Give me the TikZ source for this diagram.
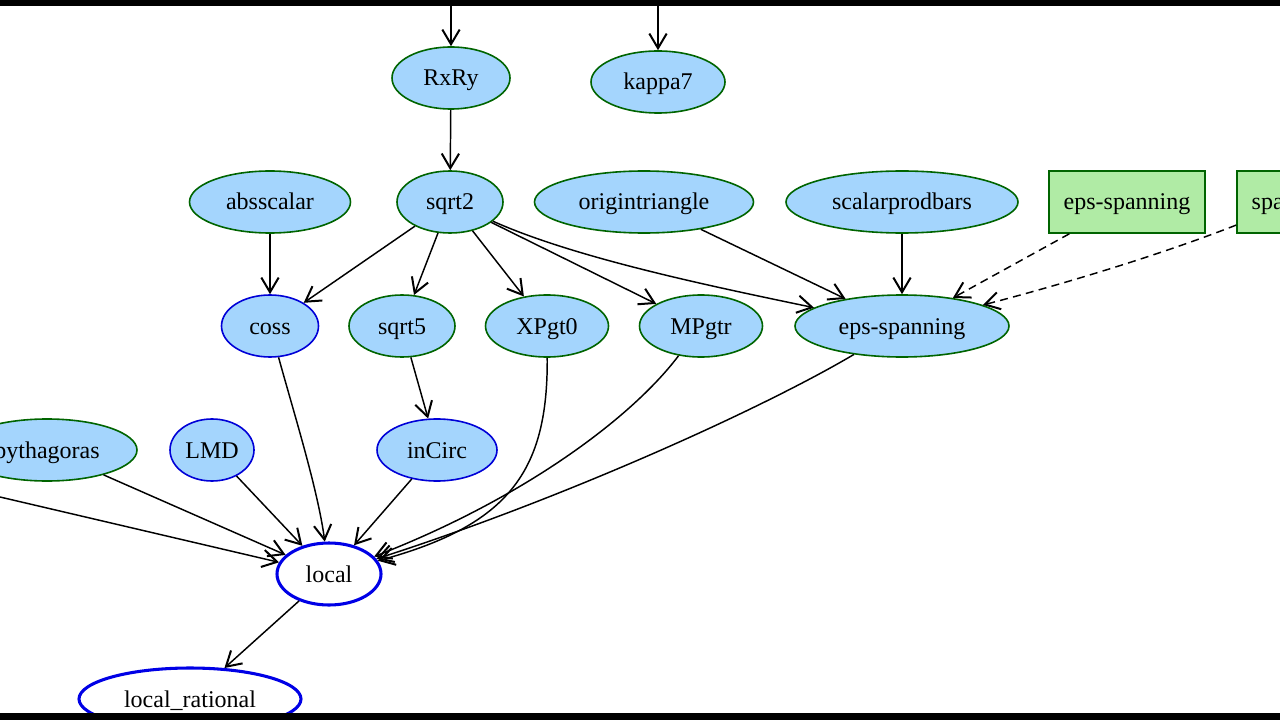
\documentclass[tikz,border=0pt]{standalone}
\usepackage{fontspec}
\setmainfont{Liberation Serif}
\usetikzlibrary{shapes.geometric,arrows.meta}
\definecolor{nfill}{RGB}{164,213,253}
\definecolor{bfill}{RGB}{176,235,165}
\definecolor{dgreen}{RGB}{0,100,0}
\definecolor{mblue}{RGB}{0,0,215}
\definecolor{tblue}{RGB}{0,0,230}
\begin{document}
\begin{tikzpicture}[x=0.75pt,y=-0.75pt,
  base/.style={font=\fontsize{18}{21}\selectfont, inner sep=0pt, text height=12pt, text depth=0pt},
  ell/.style={base, ellipse, minimum height=62*0.75pt},
  gn/.style={ell, draw=dgreen, line width=1.2pt, fill=nfill, minimum width=#1*0.75pt},
  bn/.style={ell, draw=mblue, line width=1.2pt, fill=nfill, minimum width=#1*0.75pt},
  wn/.style={ell, draw=tblue, line width=2.3pt, fill=white, minimum width=#1*0.75pt},
  gbox/.style={base, rectangle, draw=dgreen, line width=1.2pt, fill=bfill, minimum width=#1*0.75pt, minimum height=62*0.75pt},
  arr/.style={draw=black, line width=1.1pt, -{Straight Barb[length=11pt,width=13pt,line width=1.5pt]}},
  darr/.style={arr, dash pattern=on 6pt off 4pt}]
\useasboundingbox (0,0) rectangle (1280,720);
\clip (0,0) rectangle (1280,720);
\fill[white] (0,0) rectangle (1280,720);

\node[gn=118] (rxry) at (451,78) {RxRy};
\node[gn=134] (kappa) at (658,82) {kappa7};
\node[gn=161] (abs) at (270,202) {absscalar};
\node[gn=106] (sqrt2) at (450,202) {sqrt2};
\node[gn=219] (orig) at (644,202) {origintriangle};
\node[gn=232] (spb) at (902,202) {scalarprodbars};
\node[gbox=156] (epsb) at (1127,202) {eps-spanning};
\node[gbox=116] (spab) at (1295,202) {spanning};
\node[bn=97] (coss) at (270,326) {coss};
\node[gn=106] (sqrt5) at (402,326) {sqrt5};
\node[gn=123] (xp) at (547,326) {XPgt0};
\node[gn=123] (mp) at (701,326) {MPgtr};
\node[gn=214] (eps) at (902,326) {eps-spanning};
\node[gn=180] (pyth) at (47,450) {pythagoras};
\node[bn=84] (lmd) at (212,450) {LMD};
\node[bn=120] (inc) at (437,450) {inCirc};
\node[wn=104] (local) at (329,574) {local};
\node[wn=222] (lrat) at (190,699) {local\_rational};

\coordinate (t1) at (451,0);
\coordinate (t2) at (658,0);
\coordinate (offl) at (0,497);

\draw[arr] (t1) -- (rxry);
\draw[arr] (t2) -- (kappa);
\draw[arr] (rxry) -- (sqrt2);
\draw[arr] (abs) -- (coss);
\draw[arr] (sqrt2) -- (coss);
\draw[arr] (sqrt2) -- (sqrt5);
\draw[arr] (sqrt2) -- (xp);
\draw[arr] (sqrt2) -- (mp);
\draw[arr] (sqrt2) .. controls (575,258) and (710,286) .. (eps);
\draw[arr] (orig) -- (eps);
\draw[arr] (spb) -- (eps);
\draw[darr] (epsb) -- (eps);
\draw[darr] (spab) .. controls (1160,255) and (1060,285) .. (eps);
\draw[arr] (sqrt5) -- (inc);
\draw[arr] (coss) .. controls (293,410) and (318,490) .. (local);
\draw[arr] (pyth) -- (local);
\draw[arr] (offl) -- (local);
\draw[arr] (lmd) -- (local);
\draw[arr] (inc) -- (local);
\draw[arr] (xp) .. controls (548,470) and (510,525) .. (local);
\draw[arr] (mp) .. controls (630,420) and (520,500) .. (local);
\draw[arr] (eps) .. controls (760,410) and (560,500) .. (local);
\draw[arr] (local) -- (lrat);

\fill[black] (0,0) rectangle (1280,6);
\fill[black] (0,713) rectangle (1280,720);
\end{tikzpicture}
\end{document}
